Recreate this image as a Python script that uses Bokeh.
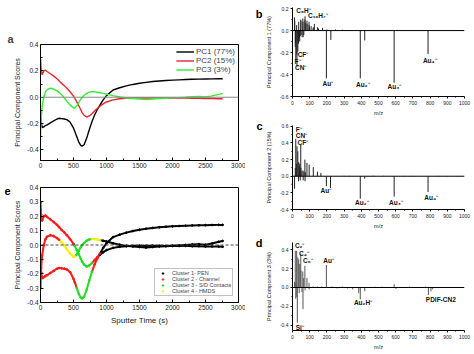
from bokeh.plotting import figure
from bokeh.layouts import row, column
from bokeh.models import (Spacer, FixedTicker, PrintfTickFormatter, Legend, LegendItem,
                          LinearAxis, Span, ColumnDataSource)
from bokeh.core.properties import value
from bokeh.embed import file_html
from bokeh.resources import INLINE

FONT = "Liberation Sans"

# ---------------- data: PCA scores vs sputter time ----------------
time_s = [0, 10, 25, 50, 75, 100, 150, 200, 250, 280,
          320, 360, 400, 450, 500, 520, 550, 580, 610, 630,
          660, 700, 740, 780, 820, 860, 900, 950, 1000, 1100,
          1200, 1300, 1400, 1500, 1600, 1700, 1800, 1900, 2000, 2100,
          2200, 2300, 2400, 2500, 2600, 2700, 2760]
pc1 = [-0.10, -0.19, -0.23, -0.225, -0.215, -0.21, -0.195, -0.18, -0.165, -0.16,
       -0.162, -0.165, -0.17, -0.19, -0.235, -0.26, -0.30, -0.34, -0.365, -0.372,
       -0.36, -0.31, -0.245, -0.185, -0.135, -0.095, -0.06, -0.02, 0.012, 0.055,
       0.072, 0.086, 0.097, 0.106, 0.113, 0.119, 0.123, 0.127, 0.13, 0.132,
       0.134, 0.136, 0.137, 0.138, 0.139, 0.14, 0.14]
pc2 = [0.30, 0.21, 0.17, 0.20, 0.205, 0.195, 0.178, 0.16, 0.14, 0.125,
       0.105, 0.088, 0.068, 0.04, 0.008, -0.008, -0.035, -0.065, -0.095, -0.115,
       -0.137, -0.15, -0.142, -0.125, -0.105, -0.085, -0.068, -0.05, -0.036, -0.02,
       -0.012, -0.008, -0.006, -0.005, -0.006, -0.005, -0.006, -0.007, -0.006, -0.007,
       -0.006, -0.008, -0.008, -0.01, -0.01, -0.011, -0.012]
pc3 = [-0.30, -0.16, -0.07, 0.0, 0.04, 0.058, 0.068, 0.062, 0.048, 0.037,
       0.018, -0.004, -0.03, -0.06, -0.082, -0.08, -0.065, -0.04, -0.015, -0.002,
       0.014, 0.03, 0.039, 0.042, 0.041, 0.038, 0.034, 0.029, 0.024, 0.012,
       0.002, -0.006, -0.01, -0.014, -0.018, -0.014, -0.01, -0.008, -0.005, -0.003,
       0.0, 0.004, 0.006, 0.002, 0.01, 0.022, 0.028]
pc_labels = ["PC1 (77%)", "PC2 (15%)", "PC3 (3%)"]
pc_colors = ["black", "#e8262d", "#33ee33"]

# cluster assignment along each curve (span end time, cluster number)
cluster_names = ["Cluster 1- PEN", "Cluster 2 - Channel", "Cluster 3 - S/D Contacts", "Cluster 4 - HMDS"]
cluster_colors = ["black", "#ff1a1a", "#22dd22", "#f2f200"]
pc1_span_end = [540, 780, 900, 3000]
pc1_span_cl = [2, 3, 2, 1]
pc2_span_end = [510, 780, 880, 3000]
pc2_span_cl = [2, 3, 2, 1]
pc3_span_end = [280, 520, 760, 920, 3000]
pc3_span_cl = [2, 4, 3, 4, 1]

time_ticks = [0, 500, 1000, 1500, 2000, 2500, 3000]
time_minor = [250, 750, 1250, 1750, 2250, 2750]
score_ticks_a = [-0.4, -0.2, 0.0, 0.2, 0.4]
score_minor_a = [-0.3, -0.1, 0.1, 0.3]
score_ticks_e = [-0.4, -0.3, -0.2, -0.1, 0.0, 0.1, 0.2, 0.3, 0.4]

# ---------------- data: loadings spectra ----------------
mz_ticks = [0, 100, 200, 300, 400, 500, 600, 700, 800, 900, 1000]
mz_minor = [50, 150, 250, 350, 450, 550, 650, 750, 850, 950]

b_mz = [12, 13, 16, 17, 19, 24, 25, 26, 31, 32,
        35, 36, 37, 41, 42, 45, 48, 49, 50, 56,
        60, 61, 62, 66, 72, 73, 74, 84, 85, 96,
        97, 98, 108, 120, 121, 127, 145, 151, 175, 197,
        200, 223, 250, 290, 345, 394, 420, 591, 788, 985]
b_val = [0.12, 0.09, -0.15, -0.12, -0.27, 0.05, -0.22, -0.33, -0.19, -0.1,
         -0.12, 0.08, -0.08, -0.06, -0.1, -0.05, 0.1, 0.09, -0.04, -0.06,
         0.11, 0.08, -0.06, -0.04, 0.1, 0.13, 0.07, 0.09, 0.06, 0.08,
         0.05, 0.03, 0.04, 0.02, 0.03, 0.06, 0.03, 0.02, 0.025, -0.435,
         0.01, -0.085, 0.01, 0.008, 0.005, -0.435, -0.09, -0.475, -0.215, 0.004]
b_ticks = [-0.6, -0.4, -0.2, 0.0, 0.2]
b_minor = [-0.5, -0.3, -0.1, 0.1]
b_lab = ["C\u2086H\u207b", "C\u2081\u2080H\u2087\u207b", "CF\u207b", "F\u207b", "CN\u207b",
         "Au\u207b", "Au\u2082\u207b", "Au\u2083\u207b", "Au\u2084\u207b"]
b_lab_mz = [22, 90, 30, 12, 15, 175, 369, 553, 758]
b_lab_v = [0.18, 0.135, -0.22, -0.28, -0.34, -0.48, -0.49, -0.51, -0.27]

c_mz = [12, 16, 19, 24, 26, 31, 35, 36, 41, 42,
        45, 48, 49, 50, 60, 62, 66, 72, 73, 74,
        84, 97, 121, 145, 165, 197, 221, 300, 330, 394,
        420, 470, 530, 591, 650, 700, 788, 850, 900, 960]
c_val = [-0.15, 0.1, 0.45, 0.15, 0.36, 0.3, -0.06, 0.17, 0.12, 0.15,
         -0.05, 0.38, 0.1, 0.06, 0.07, -0.05, 0.06, 0.2, -0.06, 0.05,
         0.16, 0.14, 0.11, 0.055, 0.04, -0.12, -0.14, 0.005, 0.005, -0.27,
         -0.03, 0.005, 0.005, -0.245, 0.004, 0.004, -0.19, 0.004, 0.003, 0.003]
c_ticks = [-0.4, -0.2, 0.0, 0.2, 0.4, 0.6]
c_minor = [-0.3, -0.1, 0.1, 0.3, 0.5]
c_lab = ["F\u207b", "CN\u207b", "CF\u207b", "Au\u207b", "Au\u2082\u207b", "Au\u2083\u207b", "Au\u2084\u207b"]
c_lab_mz = [19, 19, 29, 163, 364, 561, 766]
c_lab_v = [0.56, 0.49, 0.41, -0.17, -0.32, -0.32, -0.26]

d_mz = [12, 16, 19, 20, 24, 25, 28, 31, 36, 39,
        42, 48, 49, 55, 60, 61, 65, 72, 73, 84,
        96, 97, 120, 145, 170, 197, 230, 260, 290, 320,
        350, 385, 394, 420, 480, 520, 591, 601, 680, 773,
        790, 805, 815]
d_val = [0.06, 0.39, -0.12, 0.05, 0.39, -0.1, -0.375, 0.32, 0.3, -0.06,
         0.25, 0.36, 0.18, -0.05, 0.17, -0.23, 0.1, 0.23, -0.03, 0.1,
         0.05, -0.02, 0.01, 0.01, 0.01, 0.24, 0.01, -0.01, 0.01, -0.01,
         -0.02, -0.06, -0.125, -0.04, 0.008, 0.008, 0.035, -0.015, 0.01, 0.01,
         -0.08, -0.04, -0.02]
d_ticks = [-0.4, -0.2, 0.0, 0.2, 0.4]
d_minor = [-0.3, -0.1, 0.1, 0.3]
d_lab = ["C\u2082\u207b", "C\u2084\u207b", "C\u2086\u207b", "Au\u207b", "Si\u207b", "Au\u2082H\u207b", "PDIF-CN2"]
d_lab_mz = [14, 38, 61, 179, 19, 357, 775]
d_lab_v = [0.45, 0.36, 0.29, 0.29, -0.42, -0.16, -0.125]


def base_fig(w, h, xr, yr, ml, mr, mt, mb):
    p = figure(width=w, height=h, x_range=xr, y_range=yr, output_backend="svg",
               toolbar_location=None, min_border_left=ml, min_border_right=mr,
               min_border_top=mt, min_border_bottom=mb)
    p.xgrid.visible = False
    p.ygrid.visible = False
    p.background_fill_color = "white"
    p.border_fill_color = "white"
    return p


def style_axis(ax, fs, lab_fs, t_in, t_out):
    ax.axis_line_color = "black"
    ax.axis_line_width = 1
    ax.major_tick_line_color = "black"
    ax.minor_tick_line_color = "black"
    ax.major_tick_in = t_in
    ax.major_tick_out = t_out
    ax.minor_tick_in = max(t_in - 1, 0)
    ax.minor_tick_out = max(t_out - 1, 0)
    ax.major_label_text_font = FONT
    ax.major_label_text_font_size = fs
    ax.major_label_text_color = "#222222"
    ax.axis_label_text_font = FONT
    ax.axis_label_text_font_size = lab_fs
    ax.axis_label_text_font_style = "normal"
    ax.axis_label_text_color = "#222222"
    ax.major_label_standoff = 2
    ax.axis_label_standoff = 3


def axis_letter(p, txt, yv, standoff):
    # panel letter drawn as the only label of an extra, line-less left axis
    ax = LinearAxis(ticker=FixedTicker(ticks=[yv], minor_ticks=[]),
                    formatter=PrintfTickFormatter(format=txt),
                    axis_line_color=None, major_tick_line_color=None,
                    minor_tick_line_color=None, major_tick_in=0, major_tick_out=0,
                    minor_tick_in=0, minor_tick_out=0,
                    major_label_text_font=FONT, major_label_text_font_size="11px",
                    major_label_text_font_style="bold", major_label_text_color="black",
                    major_label_standoff=standoff)
    p.add_layout(ax, "left")


# ---------------- panel a ----------------
pa = base_fig(245, 146, (0, 3000), (-0.48, 0.4), 40, 7, 13, 16)
pa.outline_line_color = "black"
pa.add_layout(Span(location=0, dimension="width", line_color="#888888", line_width=1))
rends = []
for ys, col in zip([pc1, pc2, pc3], pc_colors):
    rends.append(pa.line(time_s, ys, line_color=col, line_width=1.4))
leg_a = Legend(items=[LegendItem(label=l, renderers=[r]) for l, r in zip(pc_labels, rends)],
               location="top_right", margin=3, padding=1, spacing=0,
               label_text_font=FONT, label_text_font_size="8px", label_height=7,
               glyph_height=7, glyph_width=18, label_standoff=2,
               border_line_color=None, background_fill_alpha=0)
pa.add_layout(leg_a)
pa.xaxis.ticker = FixedTicker(ticks=time_ticks, minor_ticks=time_minor)
pa.yaxis.ticker = FixedTicker(ticks=score_ticks_a, minor_ticks=score_minor_a)
pa.yaxis.formatter = PrintfTickFormatter(format="%.1f")
pa.yaxis.axis_label = "Principal Component Scores"
style_axis(pa.xaxis[0], "6.5px", "8px", 3, 0)
style_axis(pa.yaxis[0], "6.5px", "7px", 3, 0)
pa.title.text = "a"
pa.title.align = "left"
pa.title.offset = -33
pa.title.standoff = 0
pa.title.text_font = FONT
pa.title.text_font_size = "11px"
pa.title.text_font_style = "bold"

# ---------------- panel e ----------------
pe = base_fig(245, 154, (0, 3000), (-0.4, 0.4), 38, 7, 11, 28)
pe.outline_line_color = "black"
pe.add_layout(Span(location=0, dimension="width", line_color="#444444", line_width=1,
                   line_dash="3 2"))


def cluster_of(t, ends, cls):
    for e, c in zip(ends, cls):
        if t <= e:
            return c
    return cls[-1]


seg = dict(x0=[], y0=[], x1=[], y1=[], c=[])
pts = {k: dict(x=[], y=[]) for k in range(1, 5)}
for ys, ends, cls in [(pc1, pc1_span_end, pc1_span_cl),
                      (pc2, pc2_span_end, pc2_span_cl),
                      (pc3, pc3_span_end, pc3_span_cl)]:
    for i in range(len(time_s) - 1):
        mid = 0.5 * (time_s[i] + time_s[i + 1])
        k = cluster_of(mid, ends, cls)
        seg["x0"].append(time_s[i]); seg["y0"].append(ys[i])
        seg["x1"].append(time_s[i + 1]); seg["y1"].append(ys[i + 1])
        seg["c"].append(cluster_colors[k - 1])
    for t, v in zip(time_s, ys):
        k = cluster_of(t, ends, cls)
        pts[k]["x"].append(t); pts[k]["y"].append(v)
pe.segment(x0="x0", y0="y0", x1="x1", y1="y1", line_color="c", line_width=2,
           source=ColumnDataSource(seg))
items = []
for k in range(1, 5):
    r = pe.scatter(pts[k]["x"], pts[k]["y"], size=1.8, color=cluster_colors[k - 1])
    items.append(LegendItem(label=cluster_names[k - 1], renderers=[r]))
leg_e = Legend(items=items, location=(114, 6), margin=0, padding=1, spacing=0,
               label_text_font=FONT, label_text_font_size="5.5px", label_height=4,
               glyph_height=4, glyph_width=13, label_standoff=3,
               border_line_color="#888888", border_line_width=1,
               background_fill_color="white", background_fill_alpha=1)
pe.add_layout(leg_e)
pe.xaxis.ticker = FixedTicker(ticks=time_ticks, minor_ticks=time_minor)
pe.yaxis.ticker = FixedTicker(ticks=score_ticks_e, minor_ticks=[])
pe.yaxis.formatter = PrintfTickFormatter(format="%.1f")
pe.yaxis.axis_label = "Principal Component Scores"
pe.xaxis.axis_label = "Sputter Time (s)"
style_axis(pe.xaxis[0], "6.5px", "8px", 3, 0)
style_axis(pe.yaxis[0], "6.5px", "7px", 3, 0)
axis_letter(pe, "e", 0.379, 1)


# ---------------- spectra b, c, d ----------------
def spectrum(h, yr, ml, mr, mt, mb, mz, vals, ticks, minor, ylab, labs, lab_mz, lab_v, col):
    p = base_fig(229, h, (0, 1000), yr, ml, mr, mt, mb)
    p.outline_line_color = None
    p.add_layout(Span(location=0, dimension="width", line_color="black", line_width=1))
    p.segment(x0=mz, y0=[0] * len(mz), x1=mz, y1=vals, line_color=col, line_width=1)
    p.text(x=lab_mz, y=lab_v, text=labs, text_font=value(FONT), text_font_size=value("6.5px"),
           text_font_style="bold", text_align="left", text_baseline="middle", text_color="#111111")
    p.xaxis.ticker = FixedTicker(ticks=mz_ticks, minor_ticks=mz_minor)
    p.yaxis.ticker = FixedTicker(ticks=ticks, minor_ticks=minor)
    p.yaxis.formatter = PrintfTickFormatter(format="%.1f")
    p.xaxis.axis_label = "m/z"
    p.yaxis.axis_label = ylab
    style_axis(p.xaxis[0], "5px", "5.5px", 0, 2)
    style_axis(p.yaxis[0], "5px", "5.5px", 0, 2)
    p.yaxis.axis_label_standoff = 5
    p.xaxis.axis_label_standoff = 2
    return p


pb = spectrum(118, (-0.6, 0.21), 47, 9, 7, 16, b_mz, b_val, b_ticks, b_minor,
              "Principal Component 1 (77%)", b_lab, b_lab_mz, b_lab_v, "#222222")
axis_letter(pb, "b", 0.15, 0)
pc = spectrum(113, (-0.4, 0.61), 47, 8, 7, 13, c_mz, c_val, c_ticks, c_minor,
              "Principal Component 2 (15%)", c_lab, c_lab_mz, c_lab_v, "#222222")
axis_letter(pc, "c", 0.60, 0)
pd_ = spectrum(123, (-0.457, 0.478), 44, 10, 11, 24, d_mz, d_val, d_ticks, d_minor,
               "Principal Component 3 (3%)", d_lab, d_lab_mz, d_lab_v, "#555555")
axis_letter(pd_, "d", 0.47, 0)

layout = row(column(Spacer(width=245, height=30), pa, pe, Spacer(width=245, height=24)),
             column(pb, pc, pd_))
open("out.html", "w").write(file_html(layout, INLINE))
